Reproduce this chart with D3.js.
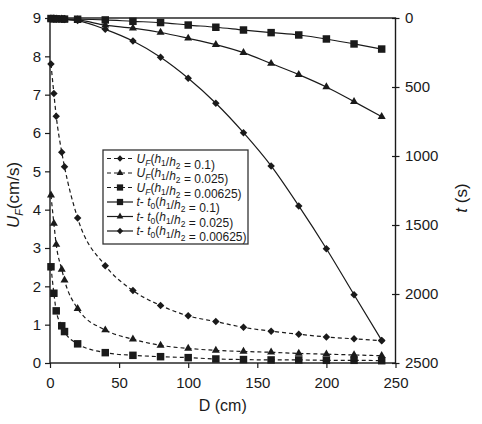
<!DOCTYPE html>
<html>
<head>
<meta charset="utf-8">
<script src="https://cdn.jsdelivr.net/npm/d3@7"></script>
<style>
  body { margin: 0; background: #fff; }
  svg { display: block; font-family: "Liberation Sans", Arial, Helvetica, sans-serif; }
</style>
</head>
<body>
<svg id="chart" width="482" height="424"></svg>
<script>
// distance along the channel (cm)
const distance = [0.7, 2.8, 4.5, 8.5, 10.5, 20, 40, 60, 80, 100, 120, 140, 160, 180, 200, 220, 240];

// front velocity U_F (cm/s)
const ufRatio01 = [7.8, 7.03, 6.44, 5.5, 5.12, 3.78, 2.54, 1.89, 1.5, 1.23, 1.08, 0.93, 0.83, 0.75, 0.68, 0.63, 0.58];
const ufRatio0025 = [4.38, 3.64, 3.09, 2.44, 2.16, 1.42, 0.86, 0.62, 0.46, 0.38, 0.33, 0.3, 0.28, 0.25, 0.23, 0.21, 0.19];
const ufRatio000625 = [2.51, 1.82, 1.36, 0.97, 0.82, 0.5, 0.27, 0.2, 0.165, 0.14, 0.105, 0.09, 0.08, 0.08, 0.07, 0.07, 0.06];

// elapsed time t - t0 (s)
const tRatio01 = [4, 5, 6, 7, 8, 9, 14, 24, 33, 51, 67, 87, 106, 123, 152, 188, 225];
const tRatio0025 = [6, 7, 8, 9, 10, 14, 52, 74, 105, 147, 193, 251, 330, 410, 500, 606, 715];
const tRatio000625 = [7, 8, 9, 10, 11, 19, 82, 167, 285, 437, 618, 831, 1072, 1362, 1672, 2005, 2336];

const xTicks = [0, 50, 100, 150, 200, 250];
const leftTicks = [0, 1, 2, 3, 4, 5, 6, 7, 8, 9];
const rightTicks = [0, 500, 1000, 1500, 2000, 2500];
const ratioLabels = ["0.1", "0.025", "0.00625"];

const svg = d3.select("#chart");
const plotLeft = 50, plotRight = 395.5, plotTop = 18, plotBottom = 363;
const ink = "#1a1a1a";

const x = d3.scaleLinear().domain([0, 250]).range([plotLeft, plotRight]);
const yU = d3.scaleLinear().domain([0, 9]).range([plotBottom, plotTop]);
const yT = d3.scaleLinear().domain([0, 2500]).range([plotTop, plotBottom]);

// square rotated 45 deg, like the spreadsheet diamond marker
const symbolRhomb = {
  draw(ctx, size) {
    const r = Math.sqrt(size / 2);
    ctx.moveTo(0, -r);
    ctx.lineTo(r, 0);
    ctx.lineTo(0, r);
    ctx.lineTo(-r, 0);
    ctx.closePath();
  }
};

const series = [
  {values: ufRatio01, y: yU, dash: "4,3", shape: symbolRhomb, size: 28, kind: "U", ratio: 0},
  {values: ufRatio0025, y: yU, dash: "4,3", shape: d3.symbolTriangle, size: 28, kind: "U", ratio: 1},
  {values: ufRatio000625, y: yU, dash: "4,3", shape: d3.symbolSquare, size: 56, kind: "U", ratio: 2},
  {values: tRatio01, y: yT, dash: null, shape: d3.symbolSquare, size: 56, kind: "t", ratio: 0},
  {values: tRatio0025, y: yT, dash: null, shape: d3.symbolTriangle, size: 28, kind: "t", ratio: 1},
  {values: tRatio000625, y: yT, dash: null, shape: symbolRhomb, size: 28, kind: "t", ratio: 2}
];

// axes
const gx = svg.append("g").attr("transform", `translate(0,${plotBottom})`)
  .call(d3.axisBottom(x).tickValues(xTicks).tickSize(5).tickPadding(9));
const gl = svg.append("g").attr("transform", `translate(${plotLeft},0)`)
  .call(d3.axisLeft(yU).tickValues(leftTicks).tickSize(5).tickPadding(4));
const gr = svg.append("g").attr("transform", `translate(${plotRight},0)`)
  .call(d3.axisRight(yT).tickValues(rightTicks).tickFormat(d3.format("d")).tickSize(4).tickPadding(5.5));
gr.selectAll(".tick line").attr("x1", -3.5);

[gx, gl, gr].forEach(function(g) {
  g.select(".domain").remove();
  g.selectAll(".tick line").attr("stroke", ink).attr("stroke-width", 1.2);
  g.selectAll(".tick text").attr("fill", ink).style("font-size", "15px")
    .style("font-family", "'Liberation Sans', Arial, sans-serif");
});

svg.append("rect")
  .attr("x", plotLeft).attr("y", plotTop)
  .attr("width", plotRight - plotLeft).attr("height", plotBottom - plotTop)
  .attr("fill", "none").attr("stroke", ink).attr("stroke-width", 1.4);

// data
const plot = svg.append("g");
series.forEach(function(s) {
  const line = d3.line()
    .x((d, i) => x(distance[i]))
    .y(d => s.y(d))
    .curve(d3.curveMonotoneX);
  plot.append("path")
    .datum(s.values)
    .attr("d", line)
    .attr("fill", "none")
    .attr("stroke", ink)
    .attr("stroke-width", 1.2)
    .attr("stroke-dasharray", s.dash);
  plot.selectAll(null)
    .data(s.values)
    .join("path")
    .attr("transform", (d, i) => `translate(${x(distance[i])},${s.y(d)})`)
    .attr("d", d3.symbol(s.shape, s.size))
    .attr("fill", ink);
});

// axis titles
const yTitle = svg.append("text")
  .attr("transform", "translate(19,195) rotate(-90)")
  .attr("text-anchor", "middle")
  .attr("fill", ink)
  .style("font-size", "17px");
yTitle.append("tspan").attr("font-style", "italic").text("U");
yTitle.append("tspan").attr("font-style", "italic").attr("dy", 4).style("font-size", "11px").text("F");
yTitle.append("tspan").attr("dy", -4).text("(cm/s)");

const tTitle = svg.append("text")
  .attr("transform", "translate(467,198) rotate(-90)")
  .attr("text-anchor", "middle")
  .attr("fill", ink)
  .style("font-size", "17px");
tTitle.append("tspan").attr("font-style", "italic").text("t");
tTitle.append("tspan").text(" (s)");

svg.append("text")
  .attr("x", (plotLeft + plotRight) / 2).attr("y", 411)
  .attr("text-anchor", "middle")
  .attr("fill", ink)
  .style("font-size", "16px")
  .text("D (cm)");

// legend
const legend = svg.append("g");
legend.append("rect")
  .attr("x", 103).attr("y", 150)
  .attr("width", 145).attr("height", 94)
  .attr("fill", "#fff").attr("stroke", "#333").attr("stroke-width", 1.3);

function sub(t, txt) {
  t.append("tspan").attr("dy", 3).style("font-size", "8.5px").text(txt);
  t.append("tspan").attr("dy", -3).text("");
}

series.forEach(function(s, i) {
  const cy = 158.5 + i * 14.5;
  legend.append("line")
    .attr("x1", 107).attr("x2", 133).attr("y1", cy).attr("y2", cy)
    .attr("stroke", ink).attr("stroke-width", 1.2)
    .attr("stroke-dasharray", s.dash);
  legend.append("path")
    .attr("transform", `translate(120,${cy})`)
    .attr("d", d3.symbol(s.shape, s.size * 0.7))
    .attr("fill", ink);

  const t = legend.append("text")
    .attr("x", 136.5).attr("y", cy + 4)
    .attr("fill", ink)
    .style("font-size", "12px");
  if (s.kind === "U") {
    t.append("tspan").attr("font-style", "italic").text("U");
    t.append("tspan").attr("font-style", "italic").attr("dy", 3).style("font-size", "8.5px").text("F");
    t.append("tspan").attr("dy", -3).text("(");
  } else {
    t.append("tspan").attr("font-style", "italic").text("t");
    t.append("tspan").text("- ");
    t.append("tspan").attr("font-style", "italic").text("t");
    t.append("tspan").attr("dy", 3).style("font-size", "8.5px").text("0");
    t.append("tspan").attr("dy", -3).text("(");
  }
  t.append("tspan").attr("font-style", "italic").text("h");
  sub(t, "1");
  t.append("tspan").text("/");
  t.append("tspan").attr("font-style", "italic").text("h");
  sub(t, "2");
  t.append("tspan").text(" = " + ratioLabels[s.ratio] + ")");
});
</script>
</body>
</html>
